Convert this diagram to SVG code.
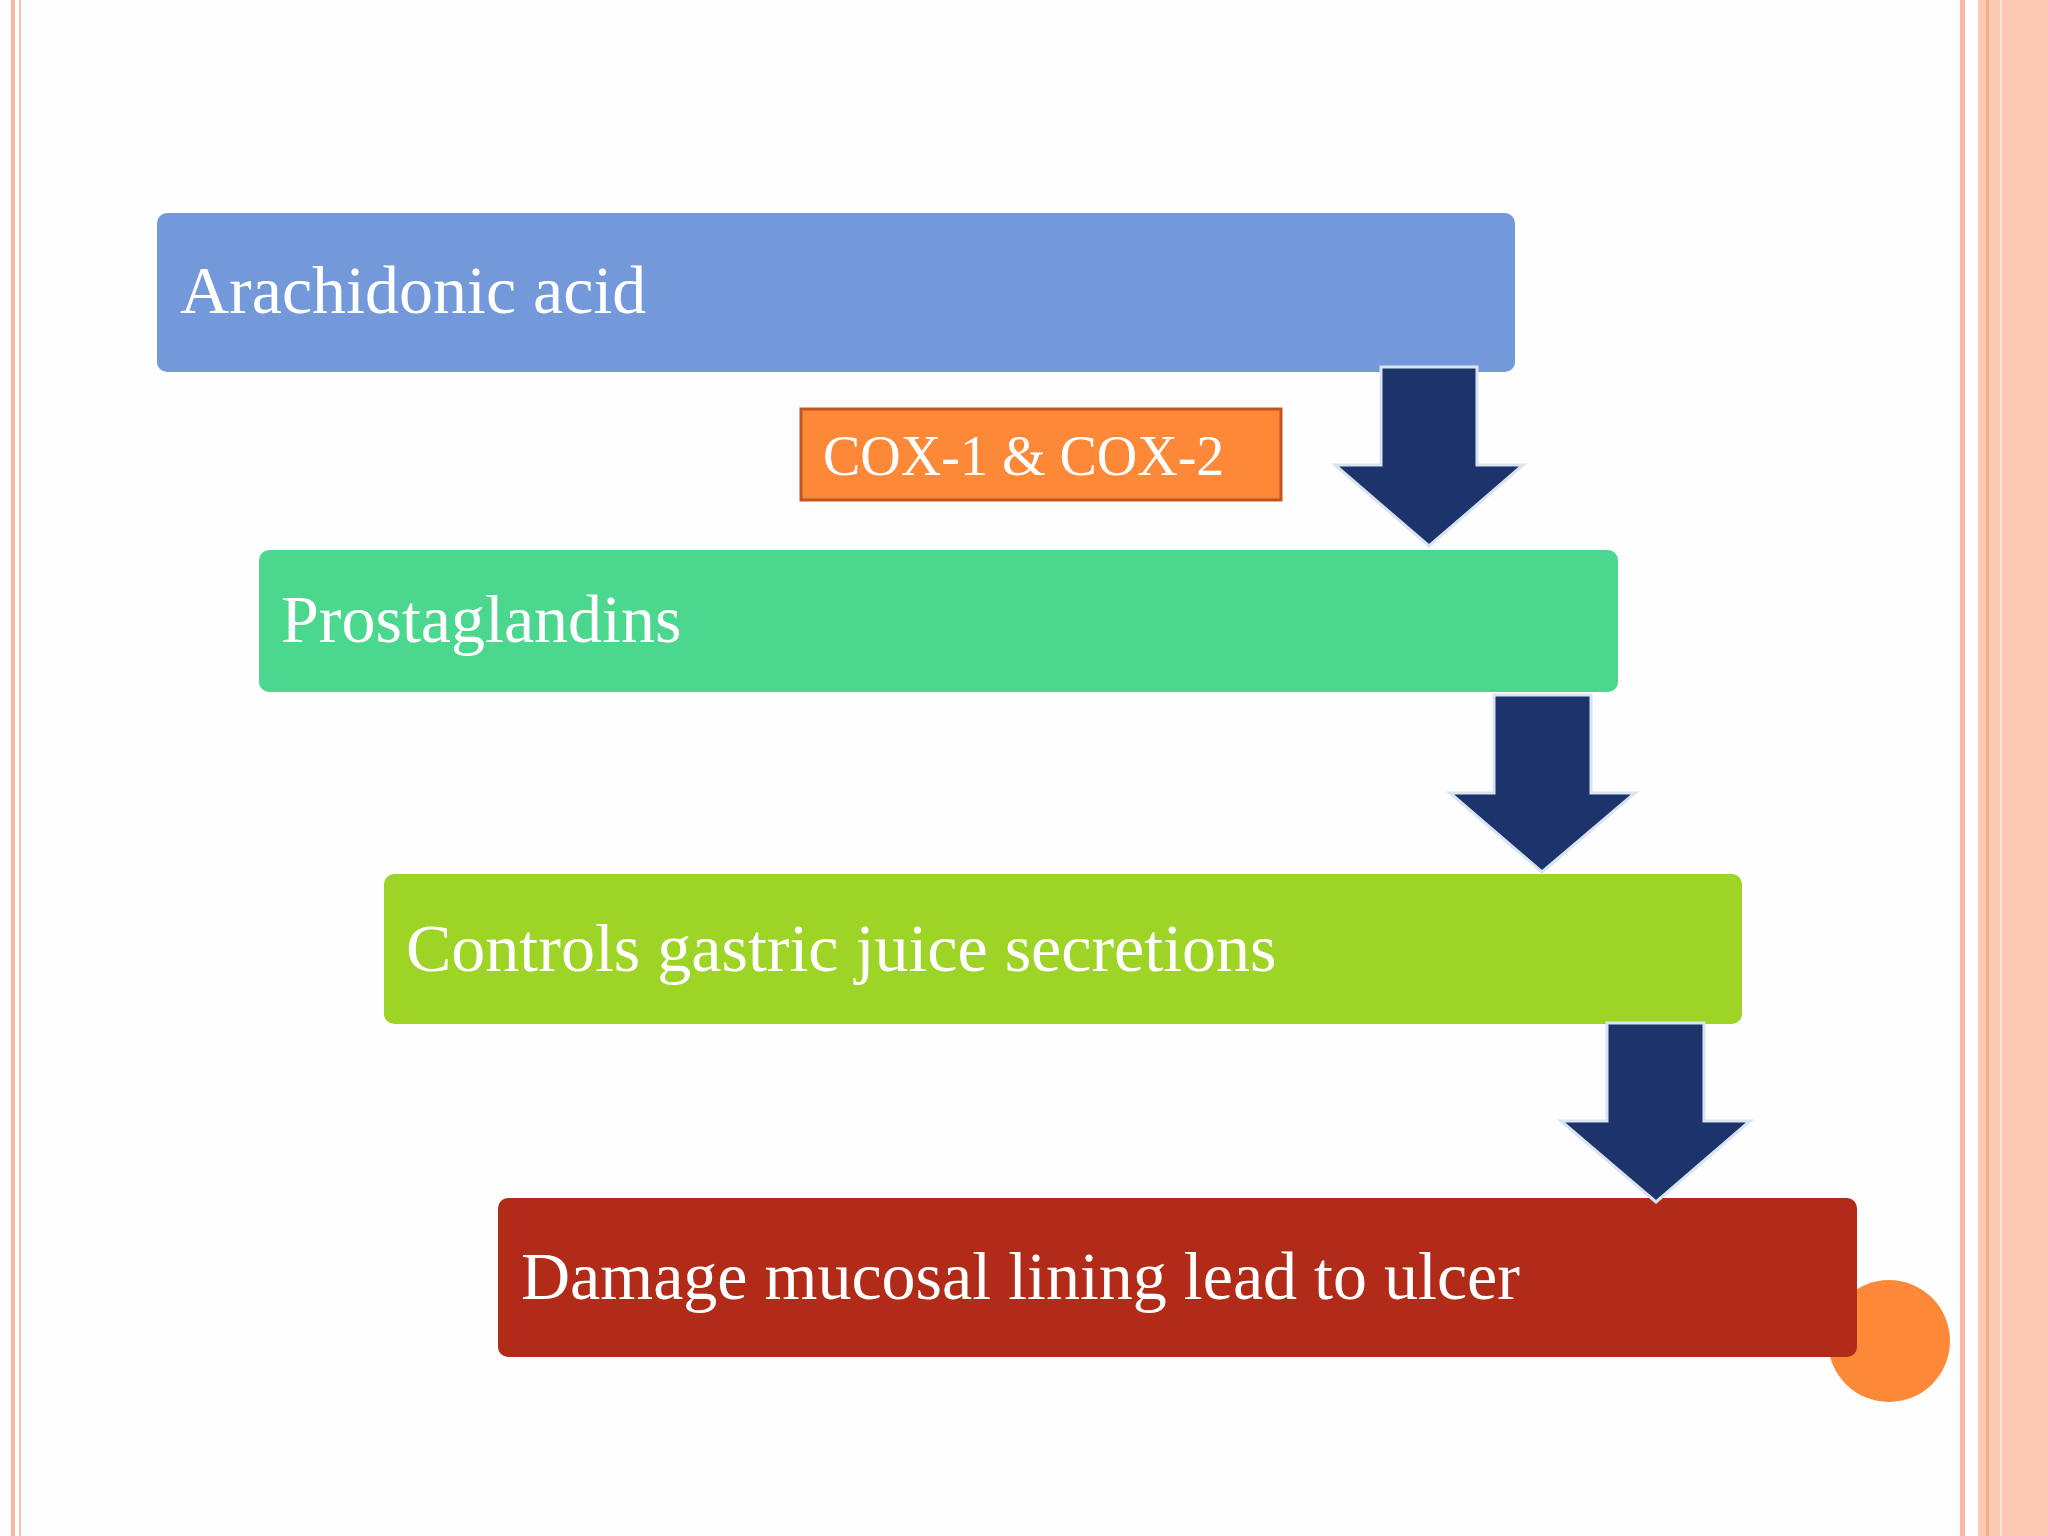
<svg xmlns="http://www.w3.org/2000/svg" width="2048" height="1536" viewBox="0 0 2048 1536">
<style>
.t{font-family:"Liberation Serif","Times New Roman",serif;fill:#fff}
.big{font-size:68px}
.arr{fill:#1c336b;stroke:#d8e4f0;stroke-width:3}
</style>
<rect width="2048" height="1536" fill="#fefefe"/>
<g id="borders">
<rect x="11" y="0" width="4" height="1536" fill="#f8b8a0"/>
<rect x="19" y="0" width="2" height="1536" fill="#f8c4b0"/>
<rect x="1960" y="0" width="5" height="1536" fill="#f8b8a0"/>
<rect x="1978" y="0" width="70" height="1536" fill="#fbc8b2"/>
<rect x="1986" y="0" width="3" height="1536" fill="#f5a98e"/>
<rect x="2000" y="0" width="2" height="1536" fill="#fde0d4"/>
</g>
<circle id="dot" cx="1889" cy="1341" r="61" fill="#fd8838"/>
<g id="n1"><rect x="157" y="213" width="1358" height="159" rx="10" fill="#7399da"/><text class="t big" x="180" y="313">Arachidonic acid</text></g>
<g id="n2"><rect x="259" y="550" width="1359" height="142" rx="10" fill="#4bd88e"/><text class="t big" x="281" y="642">Prostaglandins</text></g>
<g id="n3"><rect x="384" y="874" width="1358" height="150" rx="10" fill="#9ed425"/><text class="t big" x="406" y="971">Controls gastric juice secretions</text></g>
<g id="n4"><rect x="498" y="1198" width="1359" height="159" rx="10" fill="#b22a18"/><text class="t big" x="521" y="1299">Damage mucosal lining lead to ulcer</text></g>
<g id="cox"><rect x="801" y="409" width="480" height="91" fill="#fd8838" stroke="#c0561e" stroke-width="3"/><text class="t" x="823" y="475" font-size="56">COX-1 &amp; COX-2</text></g>
<g id="connectors">
<polygon class="arr" points="1381,367 1477,367 1477,465 1523,465 1429,546 1335,465 1381,465"/>
<polygon class="arr" points="1494,695 1591,695 1591,793 1635,793 1542,872 1450,793 1494,793"/>
<polygon class="arr" points="1607,1023 1704,1023 1704,1121 1750,1121 1656,1202 1561,1121 1607,1121"/>
</g>
</svg>
